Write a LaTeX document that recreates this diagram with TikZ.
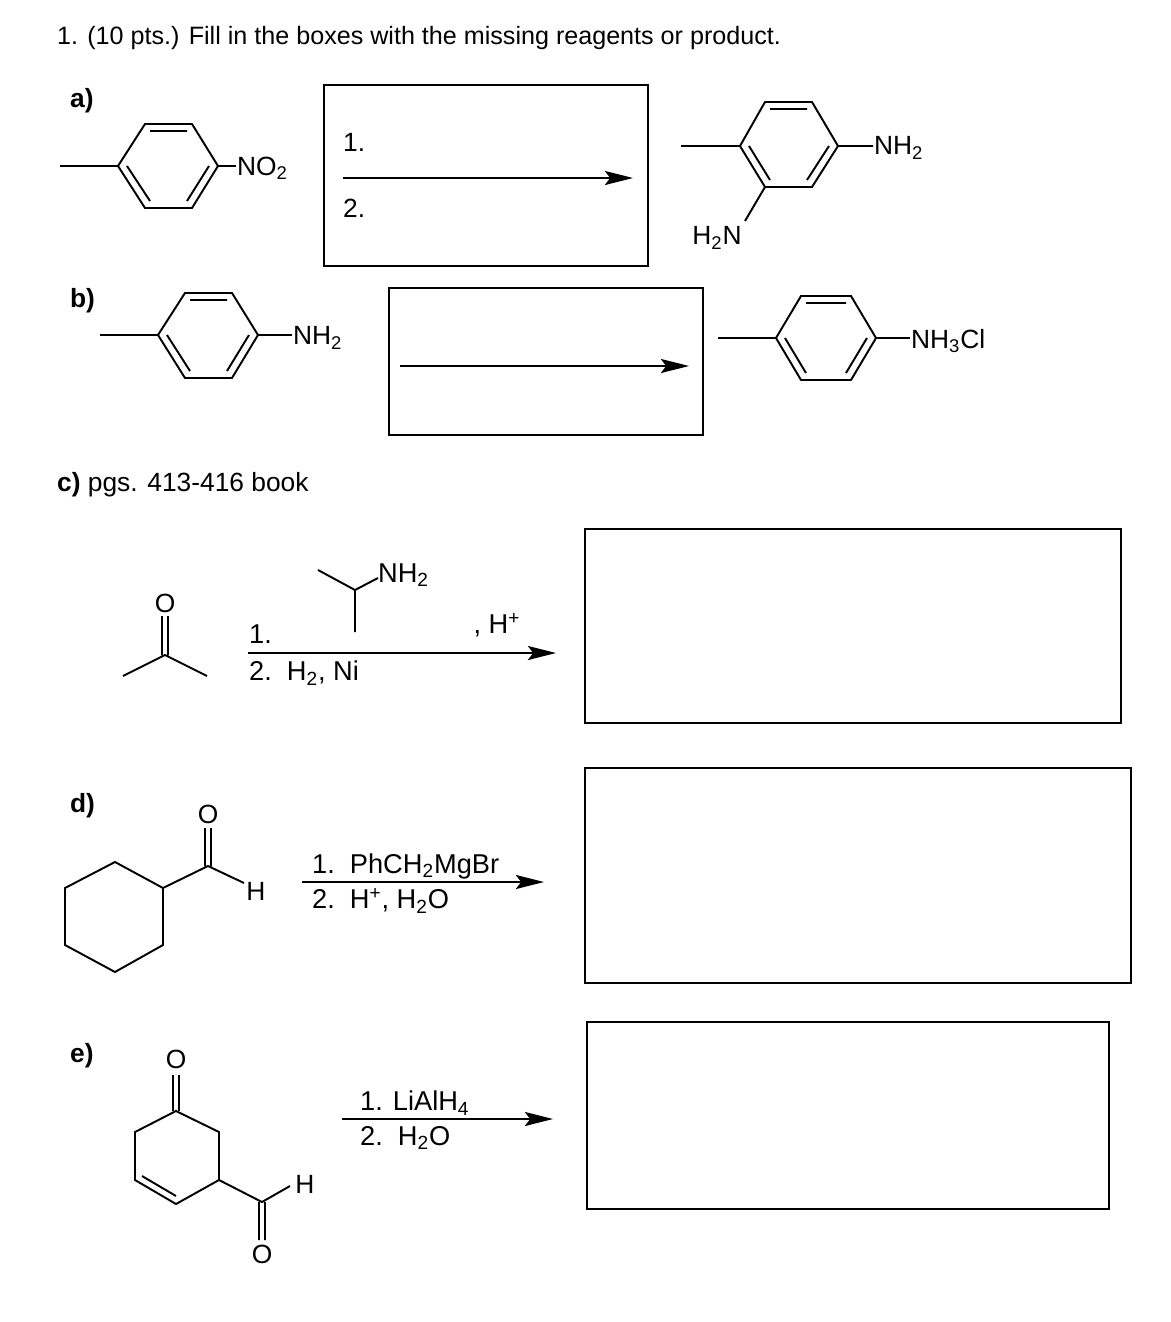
\documentclass[tikz,border=0pt]{standalone}
\usepackage{fontspec}
\setmainfont{Liberation Sans}
\usetikzlibrary{arrows.meta}
\newcommand{\tsb}[1]{\textsubscript{#1}}
\newcommand{\tsp}[1]{\textsuperscript{#1}}
\begin{document}
\begin{tikzpicture}[x=0.02cm,y=-0.02cm,
  bond/.style={line width=1.1pt},
  rbox/.style={draw,line width=1.1pt},
  rxn/.style={line width=1.1pt,-{Stealth[length=16pt,width=8pt,inset=3pt]}},
  lbl/.style={font=\fontsize{15}{17}\selectfont,inner sep=1pt},
  rlbl/.style={font=\fontsize{15.5}{17}\selectfont,inner sep=1pt},
  plbl/.style={font=\fontsize{15}{17}\selectfont\bfseries,inner sep=1pt,anchor=west}]
\useasboundingbox (0,0) rectangle (1170,1322);
\node[lbl,anchor=west,font=\fontsize{14.3}{17}\selectfont] (title) at (55,38) {1. (10 pts.) Fill in the boxes with the missing reagents or product.};
% a
\node[plbl] (la) at (68,101) {a)};
\draw[bond] (60,166)--(118,166) (118,166)--(145,124)--(192,124)--(218,166)--(192,208)--(145,208)--cycle;
\draw[bond] (150,131)--(187,131) (209,166)--(187,201) (127,166)--(150,201);
\draw[bond] (218,166)--(236,166);
\node[lbl,anchor=west] (no2) at (235,168) {NO\tsb{2}};
\node[rbox,minimum width=324*0.02cm,minimum height=181*0.02cm,anchor=north west] (boxa) at (323,84) {};
\coordinate (a1) at (343,178); \coordinate (a2) at (633,178);
\draw[rxn] (a1)--(a2);
\node[lbl,anchor=west] (a1t) at (341,142) {1.};
\node[lbl,anchor=west] (a2t) at (341,208) {2.};
\draw[bond] (681,146)--(740,146) (740,146)--(765,102)--(812,102)--(838,146)--(812,187)--(765,187)--cycle;
\draw[bond] (770,109)--(807,109) (829,146)--(807,180) (749,146)--(770,180);
\draw[bond] (838,146)--(873,146) (765,187)--(745,221);
\node[lbl,anchor=west] (nh2a) at (872,148) {NH\tsb{2}};
\node[lbl] (h2na) at (717,238) {H\tsb{2}N};
% b
\node[plbl] (lb) at (68,301) {b)};
\draw[bond] (100,335)--(158,335) (158,335)--(185,293)--(232,293)--(258,335)--(232,378)--(185,378)--cycle;
\draw[bond] (190,300)--(227,300) (249,335)--(227,371) (167,335)--(190,371);
\draw[bond] (258,335)--(292,335);
\node[lbl,anchor=west] (nh2b) at (291,338) {NH\tsb{2}};
\node[rbox,minimum width=314*0.02cm,minimum height=147*0.02cm,anchor=north west] (boxb) at (388,287) {};
\coordinate (b1) at (400,366); \coordinate (b2) at (689,366);
\draw[rxn] (b1)--(b2);
\draw[bond] (718,338)--(776,338) (776,338)--(801,296)--(851,296)--(876,338)--(851,380)--(801,380)--cycle;
\draw[bond] (806,303)--(846,303) (867,338)--(846,373) (785,338)--(806,373);
\draw[bond] (876,338)--(910,338);
\node[lbl,anchor=west] (nh3cl) at (909,341) {NH\tsb{3}Cl};
% c
\node[plbl] (lc) at (55,485) {c)\mdseries\ pgs. 413-416 book};
\draw[bond] (123,676)--(165,655)--(207,676) (162,655)--(162,616) (168,655)--(168,616);
\node[lbl] (oc) at (165,603) {O};
\draw[bond] (318,570)--(355,590)--(355,632) (355,590)--(378,578);
\node[rlbl,anchor=west] (nh2c) at (376,575) {NH\tsb{2}};
\node[rlbl] (hp) at (497,625) {, H\tsp{+}};
\node[rlbl,anchor=west] (c1t) at (247,634) {1.};
\node[rlbl,anchor=west] (c2t) at (247,673) {2.\ \ H\tsb{2}, Ni};
\coordinate (c1) at (248,653); \coordinate (c2) at (556,653);
\draw[rxn] (c1)--(c2);
\node[rbox,minimum width=536*0.02cm,minimum height=194*0.02cm,anchor=north west] (boxc) at (584,528) {};
% d
\node[plbl] (ld) at (68,806) {d)};
\draw[bond] (65,888)--(115,862)--(163,888)--(163,945)--(115,972)--(65,945)--cycle;
\draw[bond] (163,888)--(208,866)--(244,883) (205,866)--(205,828) (211,866)--(211,828);
\node[lbl] (od) at (208,814) {O};
\node[lbl] (hd) at (256,891) {H};
\coordinate (d1) at (302,882); \coordinate (d2) at (544,882);
\draw[rxn] (d1)--(d2);
\node[rlbl,anchor=west] (d1t) at (310,866) {1.\ \ PhCH\tsb{2}MgBr};
\node[rlbl,anchor=west] (d2t) at (310,901) {2.\ \ H\tsp{+}, H\tsb{2}O};
\node[rbox,minimum width=546*0.02cm,minimum height=215*0.02cm,anchor=north west] (boxd) at (584,767) {};
% e
\node[plbl] (le) at (68,1056) {e)};
\draw[bond] (176,1111)--(219,1132)--(219,1180)--(176,1204)--(135,1180)--(135,1132)--cycle;
\draw[bond] (142,1176)--(176,1196);
\draw[bond] (173,1111)--(173,1075) (179,1111)--(179,1075);
\node[lbl] (oe1) at (176,1059) {O};
\draw[bond] (219,1180)--(262,1202)--(290,1186) (259,1202)--(259,1240) (265,1202)--(265,1240);
\node[lbl] (he) at (305,1184) {H};
\node[lbl] (oe2) at (262,1254) {O};
\coordinate (e1) at (342,1119); \coordinate (e2) at (553,1119);
\draw[rxn] (e1)--(e2);
\node[rlbl,anchor=west] (e1t) at (358,1103) {1. LiAlH\tsb{4}};
\node[rlbl,anchor=west] (e2t) at (358,1138) {2.\ \ H\tsb{2}O};
\node[rbox,minimum width=522*0.02cm,minimum height=187*0.02cm,anchor=north west] (boxe) at (586,1021) {};
\end{tikzpicture}
\end{document}
